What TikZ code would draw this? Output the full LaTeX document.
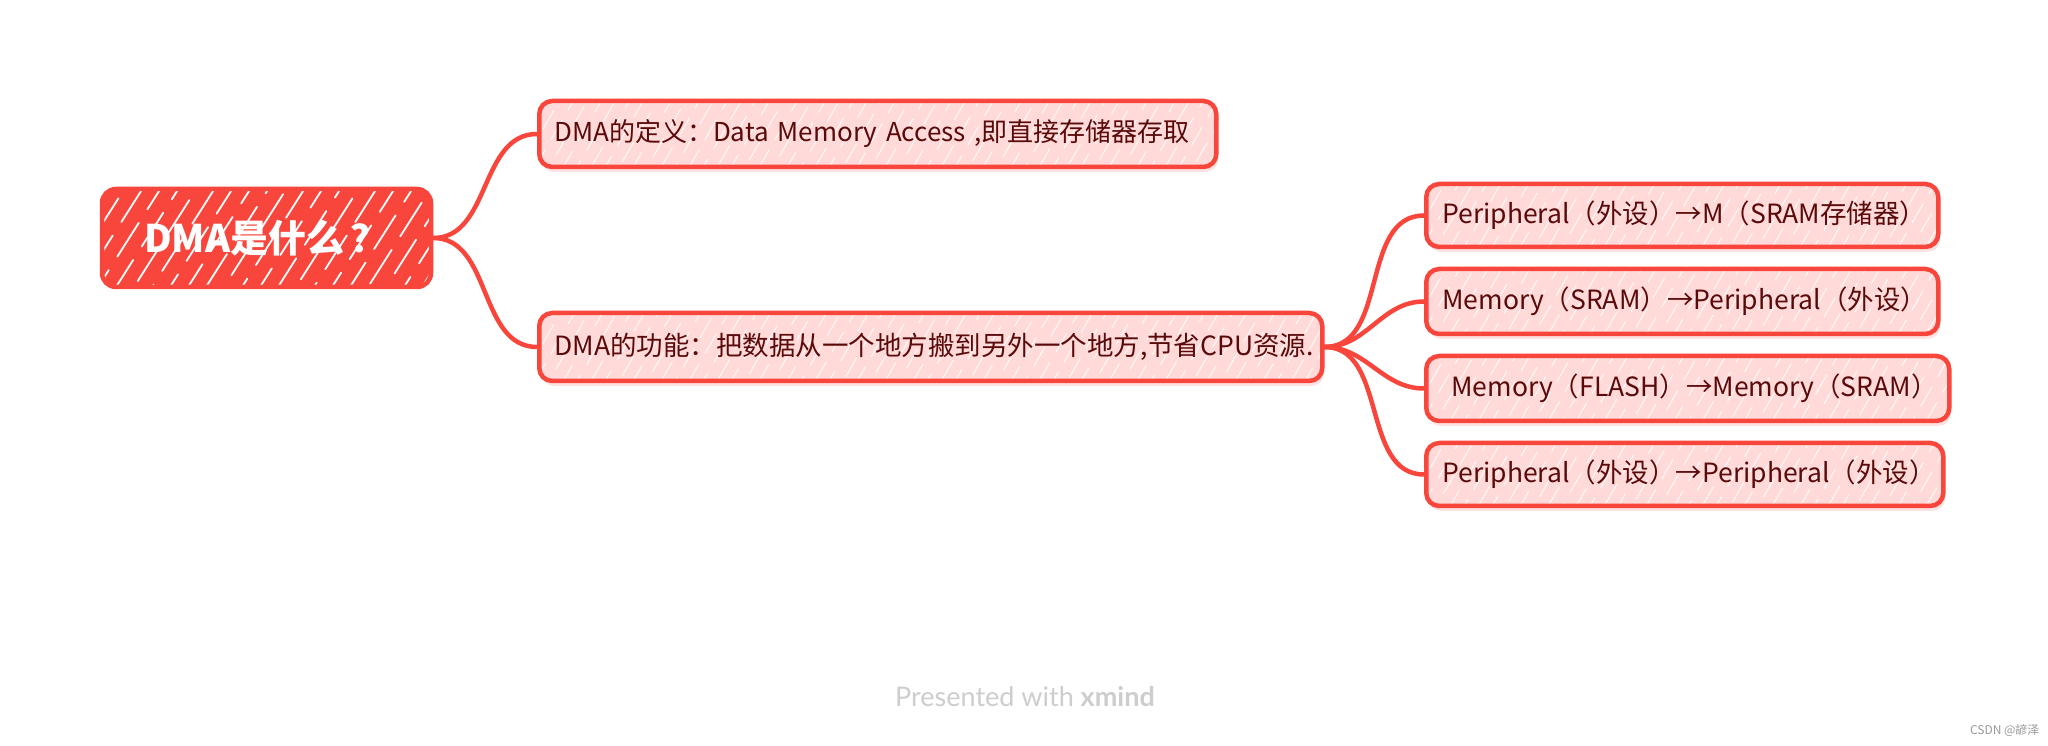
\documentclass[tikz,border=0pt]{standalone}
\usepackage{fontspec}
\setmainfont{Noto Sans CJK SC}
\newfontfamily\cjk{Noto Sans CJK SC}
\newfontfamily\lato{Lato}
\usetikzlibrary{shadows}
\definecolor{mmred}{HTML}{F9463C}
\definecolor{mmpink}{HTML}{FFDAD8}
\definecolor{mmtext}{HTML}{5A0A0A}
\definecolor{mmshadow}{HTML}{FCE3E2}
\definecolor{mmgrey}{HTML}{CDCDCD}
\definecolor{csdngrey}{HTML}{999999}
\begin{document}
\begin{tikzpicture}[x=1pt,y=1pt,
  hatchthin/.style={path picture={
    \foreach \i in {-130,-116,...,820}{
      \pgfmathsetmacro\ph{mod(\i*13+300,41)}
      \draw[white,line width=1pt,opacity=0.85,line cap=round,dash pattern=on 22pt off 12pt,dash phase=\ph pt]
        ([xshift=\i pt]path picture bounding box.south west) -- ++(46,80);
    }}},
  hatchbold/.style={path picture={
    \foreach \i in {-130,-112,...,360}{
      \pgfmathsetmacro\ph{mod(\i*17+300,53)}
      \draw[white,line width=1.8pt,line cap=round,dash pattern=on 40pt off 16pt,dash phase=\ph pt]
        ([xshift=\i pt]path picture bounding box.south west) -- ++(70,110);
    }}},
  topic/.style={draw=mmred, line width=4.5pt, rounded corners=13pt, fill=mmpink,
    text=mmtext, font=\cjk\fontsize{26.5}{30}\selectfont, inner ysep=0pt, inner xsep=15pt,
    align=left, anchor=west, hatchthin,
    drop shadow={shadow xshift=2pt, shadow yshift=-5pt, fill=mmshadow, draw=none, opacity=1}},
  rootbox/.style={draw=mmred, line width=4.5pt, rounded corners=14pt, fill=mmred,
    text=white, font=\cjk\bfseries\fontsize{38}{42}\selectfont, inner sep=0pt, hatchbold},
  conn/.style={draw=mmred, line width=4.5pt, line cap=round}
]
\useasboundingbox (0,0) rectangle (2048,746);
\fill[white] (0,0) rectangle (2048,746);

\node[rootbox, minimum width=329pt, minimum height=98pt] (root) at (266.5,508) {DMA是什么\,？};

\node[topic, text width=647pt, minimum height=66pt, font=\cjk\fontsize{26}{30}\selectfont] (n1) at (537,612)
  {DMA的定义：Data Memory Access ,即直接存储器存取};
\node[topic, text width=753pt, minimum height=68pt] (n2) at (537,399)
  {DMA的功能：把数据从一个地方搬到另外一个地方,节省CPU资源.};

\node[topic, text width=480pt, inner xsep=16pt, minimum height=63pt] (n3) at (1424,530.5)
  {Peripheral（外设）→M（SRAM存储器）};
\node[topic, text width=480pt, inner xsep=16pt, minimum height=65pt] (n4) at (1424,444.5)
  {Memory（SRAM）→Peripheral（外设）};
\node[topic, text width=473pt, inner xsep=25pt, minimum height=65pt] (n5) at (1424,357.5)
  {Memory（FLASH）→Memory（SRAM）};
\node[topic, text width=485pt, inner xsep=16pt, minimum height=63pt] (n6) at (1424,271.5)
  {Peripheral（外设）→Peripheral（外设）};

\draw[conn] (root.east) to[out=0,in=180] (n1.west);
\draw[conn] (root.east) to[out=0,in=180] (n2.west);
\draw[conn] (n2.east) to[out=0,in=180] (n3.west);
\draw[conn] (n2.east) to[out=0,in=180] (n4.west);
\draw[conn] (n2.east) to[out=0,in=180] (n5.west);
\draw[conn] (n2.east) to[out=0,in=180] (n6.west);

\node[text=mmgrey, font=\lato\fontsize{27}{30}\selectfont] (footer) at (1025,49)
  {Presented with \textbf{xmind}};
\node[text=csdngrey, font=\cjk\fontsize{12}{14}\selectfont, anchor=east] (csdn) at (2043,16)
  {CSDN @諺泽};
\end{tikzpicture}
\end{document}
